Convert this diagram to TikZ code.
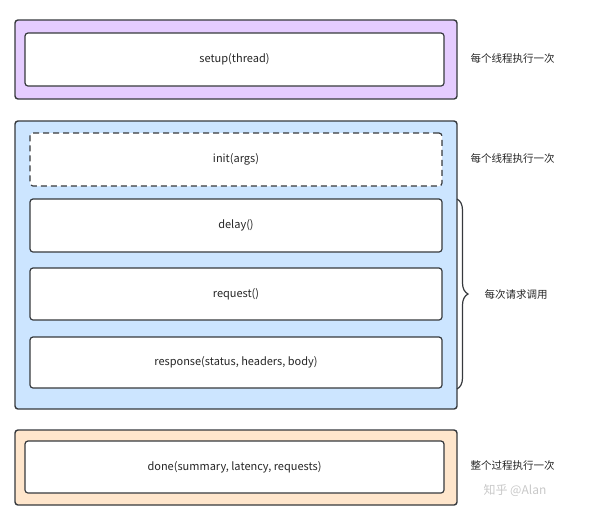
\documentclass[tikz,border=0pt]{standalone}
\usepackage{fontspec}
\setmainfont{Noto Sans CJK SC}
\usetikzlibrary{decorations.pathreplacing}
\definecolor{stageBorder}{HTML}{36393D}
\definecolor{stagePurple}{HTML}{E5CCFF}
\definecolor{stageBlue}{HTML}{CCE5FF}
\definecolor{stageOrange}{HTML}{FFE6CC}
\definecolor{markGray}{HTML}{C8C8C8}

\tikzset{
  stage/.style={draw=stageBorder, line width=1.4pt, rounded corners=3pt, minimum width=442pt},
  call/.style={draw=stageBorder, line width=1.2pt, rounded corners=3pt, fill=white, text=black!85, font=\fontsize{11}{13}\selectfont},
  note/.style={anchor=west, font=\fontsize{10.5}{12}\selectfont, text=black!85}
}

\begin{document}
\begin{tikzpicture}[x=1pt, y=-1pt]
    \useasboundingbox (0,0) rectangle (591,515);

    % setup stage
    \node[stage, fill=stagePurple, minimum height=79pt] (setupStage) at (236,59.5) {};
    \node[call, minimum width=419pt, minimum height=53pt] (setup) at (234.5,59.5) {setup(thread)};
    \node[note] (setupNote) at (467,58) {每个线程执行一次};

    % request stage
    \node[stage, fill=stageBlue, minimum height=288pt] (requestStage) at (236,265) {};
    \node[call, dash pattern=on 6pt off 4pt, minimum width=412pt, minimum height=53pt] (init) at (236,159.5) {init(args)};
    \node[call, minimum width=412pt, minimum height=53pt] (delay) at (236,225.5) {delay()};
    \node[call, minimum width=412pt, minimum height=52pt] (request) at (236,294) {request()};
    \node[call, minimum width=412pt, minimum height=51pt] (response) at (236,362.5) {response(status, headers, body)};
    \node[note] (initNote) at (467,158) {每个线程执行一次};

    \coordinate (braceTop) at (457,199);
    \coordinate (braceBottom) at (457,389);
    \draw[stageBorder, line width=1.2pt, decorate, decoration={brace, amplitude=11pt}] (braceTop) -- (braceBottom);
    \node[note] (requestNote) at (481,294) {每次请求调用};

    % done stage
    \node[stage, fill=stageOrange, minimum height=75pt] (doneStage) at (236,467.5) {};
    \node[call, minimum width=419pt, minimum height=52pt] (done) at (234.5,467) {done(summary, latency, requests)};
    \node[note] (doneNote) at (467,466) {整个过程执行一次};

    \node[anchor=west, text=markGray, font=\fontsize{12}{14}\selectfont] (mark) at (480,490) {知乎 @Alan};
\end{tikzpicture}
\end{document}
